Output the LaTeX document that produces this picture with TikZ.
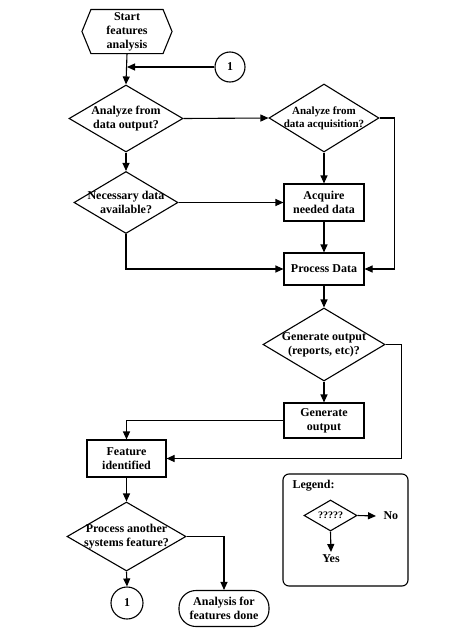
\documentclass[tikz,border=0pt]{standalone}
\usepackage{fontspec}
\setmainfont{Liberation Serif}
\usetikzlibrary{arrows.meta,shapes.geometric}
\begin{document}
\begin{tikzpicture}[x=1pt,y=-1pt,
  line width=1.1pt,
  every node/.style={font=\fontsize{12}{14}\selectfont\bfseries, align=center},
  arr/.style={-{Triangle[length=8pt,width=7pt]}},
  box/.style={draw, rectangle, minimum width=80, minimum height=36, inner sep=0},
  dia/.style={draw, diamond, inner sep=0},
  conn/.style={draw, circle, minimum size=30, inner sep=0},
  lbl/.style={inner sep=0},
]
\useasboundingbox[fill=white] (0,0) rectangle (474,632);
% start hexagon
\node[minimum width=89, minimum height=43, inner sep=0] (start) at (127,31.5) {Start\\features\\analysis};
\draw ([xshift=9pt]start.north west) -- ([xshift=-9pt]start.north east) -- (start.east)
  -- ([xshift=-9pt]start.south east) -- ([xshift=9pt]start.south west) -- (start.west) -- cycle;
\node[conn] (c1) at (230,67) {1};
\node[dia, minimum width=114, minimum height=67] (d1) at (126,118.5) {};
\node[lbl] (d1t) at (d1) {Analyze from\\data output?};
\node[dia, minimum width=110, minimum height=68] (d2) at (324,118) {};
\node[lbl, font=\fontsize{11}{13}\selectfont\bfseries] (d2t) at (d2) {Analyze from\\data acquisition?};
\node[dia, minimum width=104, minimum height=62] (d3) at (126,202.5) {};
\node[lbl] (d3t) at (d3) {Necessary data\\available?};
\node[box, minimum height=37] (acq) at (324,202.5) {Acquire\\needed data};
\node[box, minimum height=32] (proc) at (324,269) {Process Data};
\node[dia, minimum width=122, minimum height=73] (d4) at (324,344.5) {};
\node[lbl] (d4t) at (d4) {Generate output\\(reports, etc)?};
\node[box, minimum height=35] (gen) at (324,420.5) {Generate\\output};
\node[box, minimum width=79, minimum height=37] (feat) at (126.5,458.5) {Feature\\identified};
\node[dia, minimum width=119, minimum height=69] (d5) at (126.5,536.5) {};
\node[lbl] (d5t) at (d5) {Process another\\systems feature?};
\node[conn, minimum size=32] (c2) at (127,603) {1};
\node[draw, rounded corners=17pt, minimum width=90, minimum height=36, inner sep=0] (term) at (224,608.5) {Analysis for\\features done};
% legend
\node[draw, rounded corners=6pt, minimum width=125, minimum height=112] (leg) at (345.5,530) {};
\node[lbl, anchor=west] (legt) at (292,486) {Legend:};
\node[dia, minimum width=53, minimum height=31] (ld) at (330.5,515.5) {};
\node[lbl, font=\fontsize{10}{12}\selectfont\bfseries] (ldt) at (ld) {?????};
\node[lbl, anchor=west] (no) at (383,516) {No};
\node[lbl, anchor=north] (yes) at (331,554) {Yes};
\draw[arr] (ld.east) -- ([xshift=-7pt]no.west);
\draw[arr] (ld.south) -- ([yshift=2pt]yes.north);
% connectors
\draw[arr] (start.south) -- (d1.north);
\draw[arr] (c1.west) -- (c1.west -| start.south);
\draw[arr] (d1.east) -- (d2.west);
\draw[arr] (d2.east) -- ++(15,0) |- (proc.east);
\draw[arr] (d1.south) -- (d3.north);
\draw[arr] (d3.east) -- (acq.west);
\draw[arr] (d2.south) -- (acq.north);
\draw[arr] (acq.south) -- (proc.north);
\draw[arr] (d3.south) |- (proc.west);
\draw[arr] (proc.south) -- (d4.north);
\draw[arr] (d4.south) -- (gen.north);
\draw[arr] (d4.east) -- ++(16,0) |- (feat.east);
\draw[arr] (gen.west) -| (feat.north);
\draw[arr] (feat.south) -- (d5.north);
\draw[arr] (d5.south) -- (c2.north);
\draw[arr] (d5.east) -| (term.north);
\end{tikzpicture}
\end{document}
